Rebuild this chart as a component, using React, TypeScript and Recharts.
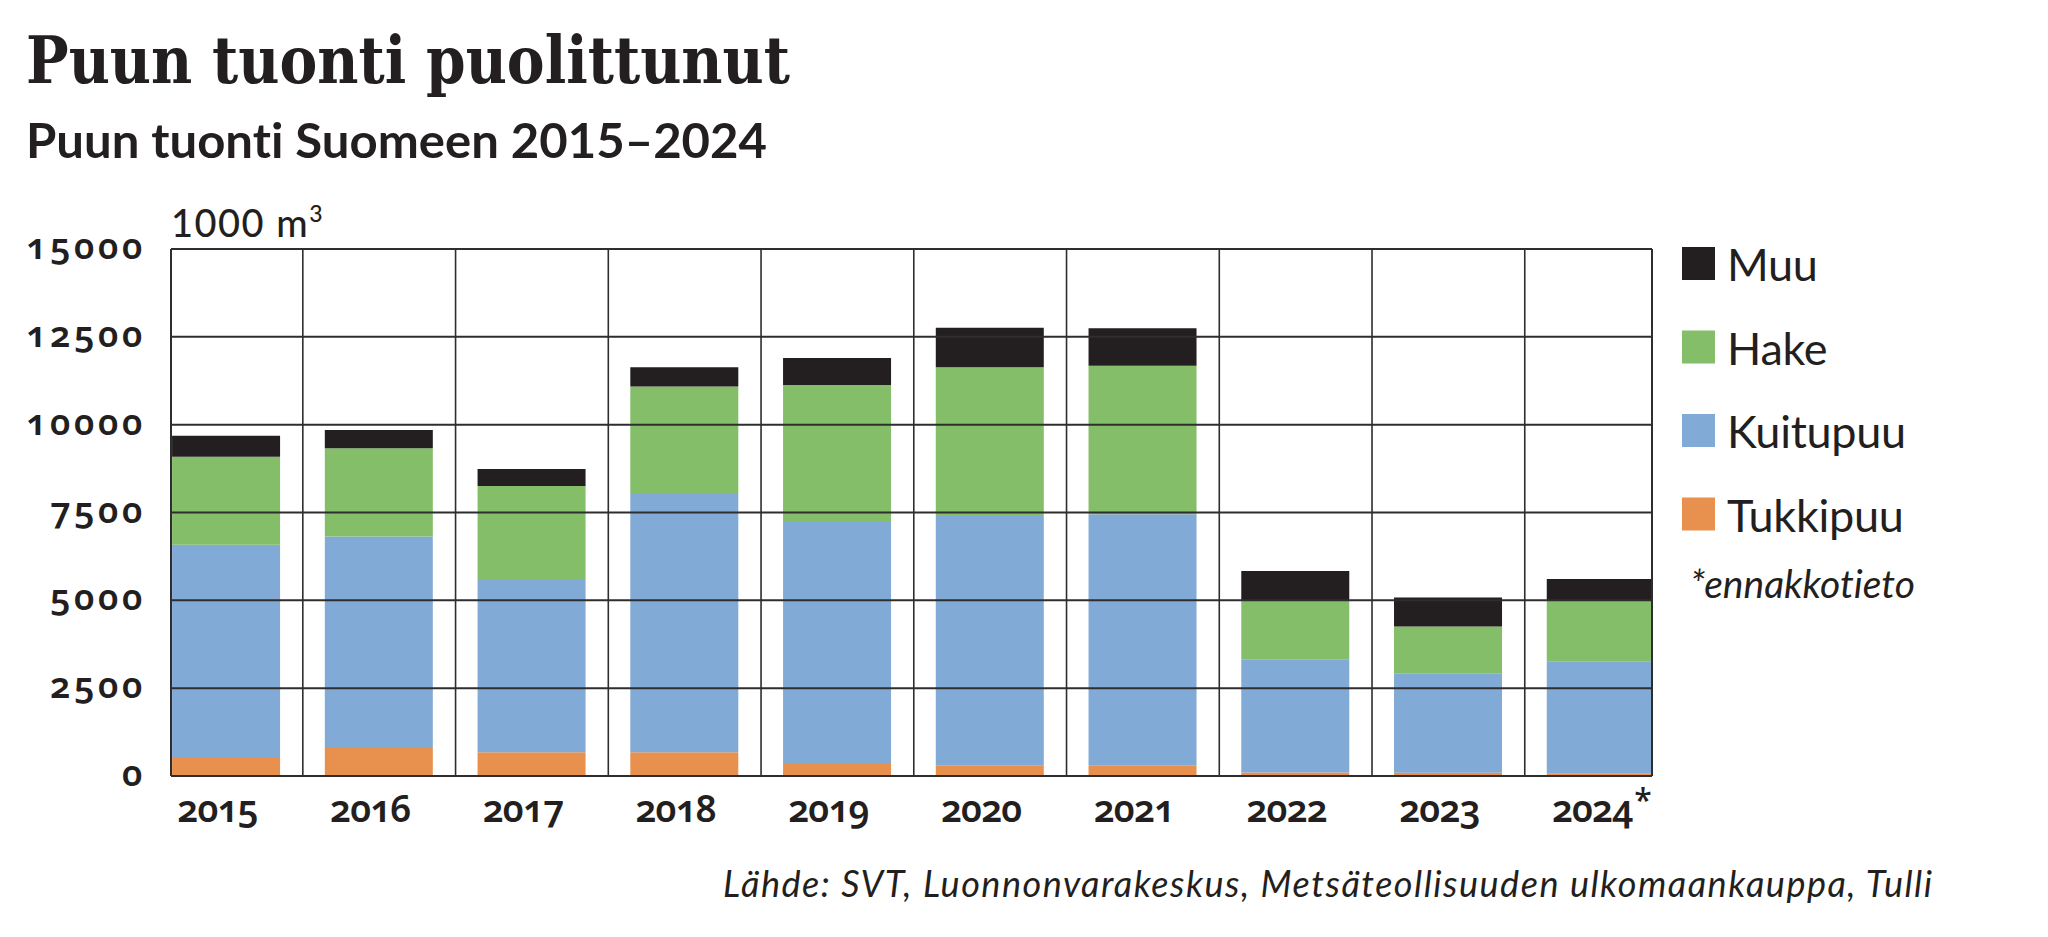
import React from 'react';
import { BarChart, Bar, XAxis, YAxis, ReferenceLine } from 'recharts';

// Puun tuonti Suomeen 2015–2024, 1000 m3
const YEARS = ['2015', '2016', '2017', '2018', '2019', '2020', '2021', '2022', '2023', '2024'];
const TUKKIPUU = [540, 825, 675, 675, 340, 295, 295, 100, 95, 75];
const KUITUPUU = [6040, 5990, 4905, 7355, 6890, 7135, 7155, 3220, 2830, 3190];
const HAKE = [2505, 2515, 2675, 3055, 3900, 4205, 4225, 1670, 1330, 1715];
const MUU = [600, 520, 485, 550, 770, 1120, 1070, 845, 825, 625];
const Y_TICKS = [0, 2500, 5000, 7500, 10000, 12500, 15000];
const PRELIMINARY = ['2024'];

const SERIES = [
  { key: 'tukkipuu', name: 'Tukkipuu', color: '#e8914f' },
  { key: 'kuitupuu', name: 'Kuitupuu', color: '#82aad6' },
  { key: 'hake', name: 'Hake', color: '#84be68' },
  { key: 'muu', name: 'Muu', color: '#231f20' },
];

const data = YEARS.map((year, i) => ({
  idx: i,
  year,
  tukkipuu: TUKKIPUU[i],
  kuitupuu: KUITUPUU[i],
  hake: HAKE[i],
  muu: MUU[i],
}));

const X_DOMAIN: [number, number] = [-0.363, 9.333];
const X_TICKS = YEARS.map((_, i) => i);
const BOUNDARIES = YEARS.slice(1).map((_, i) => i + 0.5);

const INK = '#231f20';
const GRID = '#2e2e2e';
const SANS = 'Lato, "Noto Sans", sans-serif';
const NUM = '"Noto Sans", Lato, sans-serif';
const noLig = { fontVariantLigatures: 'none' } as React.CSSProperties;
const oldNums = { fontVariantNumeric: 'oldstyle-nums', fontVariantLigatures: 'none' } as React.CSSProperties;

function YTick({ x, y, payload }: any) {
  return (
    <text x={x - 25} y={y + 10} textAnchor="end" fill={INK} fontFamily={NUM} fontWeight={600} fontSize={36}
      letterSpacing={3.5} style={oldNums}>
      {payload.value}
    </text>
  );
}

function XTick({ x, y, payload }: any) {
  const year = YEARS[payload.value];
  const star = PRELIMINARY.includes(year);
  return (
    <g>
      <text x={x - 9} y={y + 46} textAnchor="middle" fill={INK} fontFamily={NUM} fontWeight={600} fontSize={37}
        letterSpacing={-1} style={oldNums}>
        {year}
      </text>
      {star && (
        <text x={x + 33} y={y + 36} fill={INK} fontFamily={NUM} fontWeight={500} fontSize={32}>*</text>
      )}
    </g>
  );
}

function Overlay() {
  const legend = [...SERIES].reverse();
  return (
    <svg width={2048} height={937} style={{ position: 'absolute', left: 0, top: 0, pointerEvents: 'none' }}>
      <text x={26} y={83} fontFamily='"DejaVu Serif", serif' fontWeight={700} fontSize={66} fill={INK}
        textLength={764} lengthAdjust="spacingAndGlyphs" style={noLig}>
        Puun tuonti puolittunut
      </text>
      <text x={26} y={158} fontFamily={SANS} fontWeight={700} fontSize={48} fill={INK}
        textLength={741} lengthAdjust="spacingAndGlyphs" style={noLig}>
        Puun tuonti Suomeen 2015–2024
      </text>
      <text x={171} y={237} fontFamily={SANS} fontWeight={500} fontSize={38} fill={INK} letterSpacing={1.5} style={noLig}>
        1000 m<tspan dy={-15} fontSize={23}>3</tspan>
      </text>
      {legend.map((s, i) => (
        <g key={s.key}>
          <rect x={1682} y={247 + i * 83.5} width={33} height={33} fill={s.color} />
          <text x={1727} y={281 + i * 83.5} fontFamily={SANS} fontSize={45} fill={INK} letterSpacing={-0.3} style={noLig}>
            {s.name}
          </text>
        </g>
      ))}
      <text x={1690} y={598} fontFamily={SANS} fontStyle="italic" fontSize={39} fill={INK} style={noLig}>*ennakkotieto</text>
      <text x={1932} y={897} textAnchor="end" fontFamily={SANS} fontStyle="italic" fontSize={36} fill={INK}
        textLength={1209} lengthAdjust="spacing" style={noLig}>
        Lähde: SVT, Luonnonvarakeskus, Metsäteollisuuden ulkomaankauppa, Tulli
      </text>
    </svg>
  );
}

export default function App() {
  return (
    <div style={{ position: 'absolute', left: 0, top: 0, width: 2048, height: 937, background: '#fff' }}>
      <BarChart width={2048} height={937} data={data} margin={{ top: 249, right: 396, bottom: 101, left: 0 }}>
        <XAxis type="number" dataKey="idx" domain={X_DOMAIN} ticks={X_TICKS} allowDataOverflow
          axisLine={false} tickLine={false} tickSize={0} tickMargin={0} height={60} tick={<XTick />} interval={0} />
        <YAxis type="number" domain={[0, 15000]} ticks={Y_TICKS} allowDataOverflow width={171}
          axisLine={false} tickLine={false} tickSize={0} tickMargin={0} tick={<YTick />} interval={0} />
        {SERIES.map((s) => (
          <Bar key={s.key} dataKey={s.key} name={s.name} stackId="a" fill={s.color} barSize={108}
            isAnimationActive={false} />
        ))}
        {BOUNDARIES.map((b) => (
          <ReferenceLine key={'v' + b} x={b} stroke={GRID} strokeWidth={1.6} ifOverflow="visible" />
        ))}
        <ReferenceLine x={X_DOMAIN[0]} stroke={GRID} strokeWidth={2} ifOverflow="visible" />
        <ReferenceLine x={X_DOMAIN[1]} stroke={GRID} strokeWidth={2} ifOverflow="visible" />
        {Y_TICKS.map((t) => (
          <ReferenceLine key={'h' + t} y={t} stroke={GRID} strokeWidth={2} ifOverflow="visible" />
        ))}
      </BarChart>
      <Overlay />
    </div>
  );
}
